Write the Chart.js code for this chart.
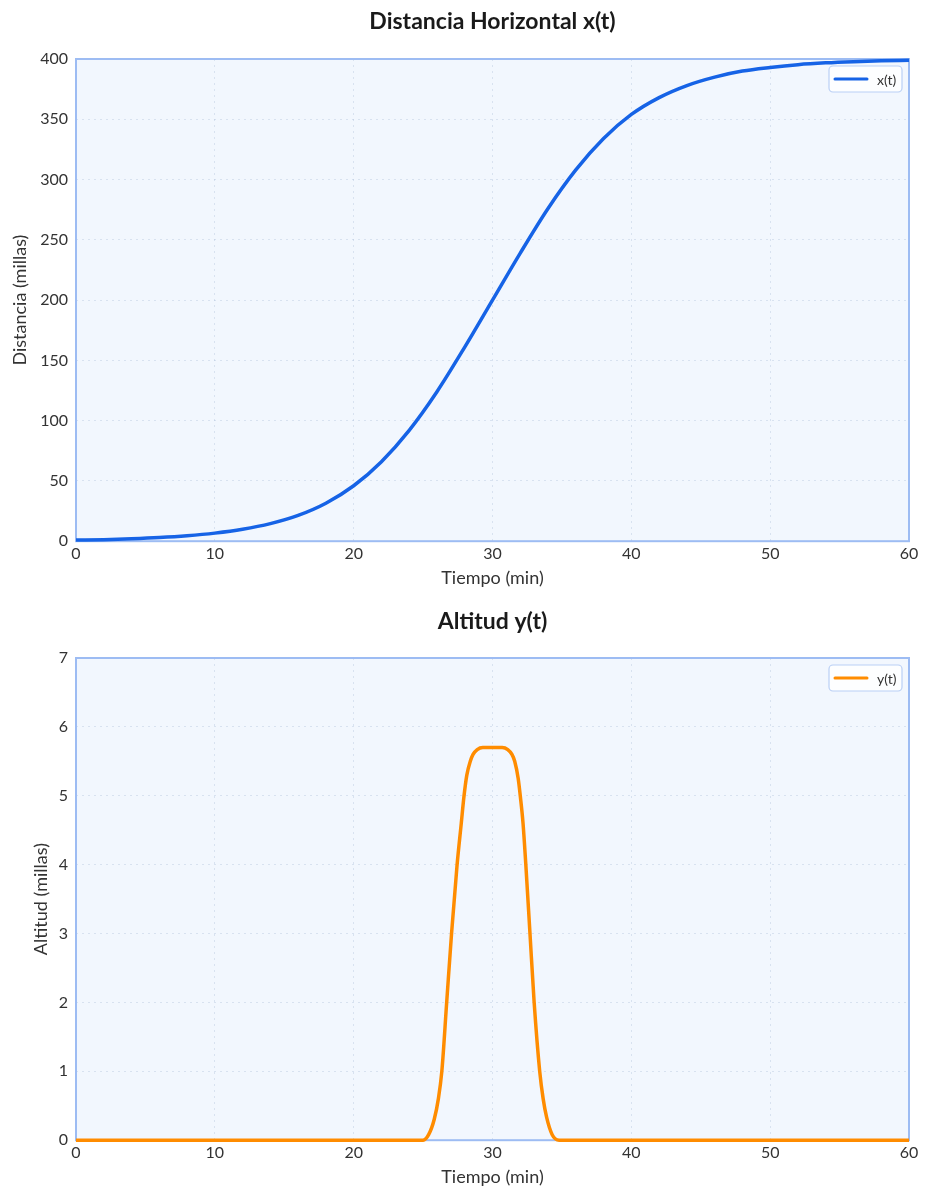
<!DOCTYPE html>
<html>
<head>
<meta charset="utf-8">
<script src="https://cdn.jsdelivr.net/npm/chart.js@4.4.1/dist/chart.umd.min.js"></script>
<style>
  html, body { margin: 0; padding: 0; background: #fff; }
  .panel { position: relative; width: 933px; height: 600px; }
</style>
</head>
<body>
<div class="panel"><canvas id="xChart"></canvas></div>
<div class="panel"><canvas id="yChart"></canvas></div>
<script>
// values
const timeX = [0, 2, 4, 6, 8, 10, 12, 14, 16, 18, 20, 22, 24, 26, 28, 30,
               32, 34, 36, 38, 40, 42, 44, 46, 48, 50, 52, 54, 56, 58, 60];
const distX = [0.9, 1.3, 2, 3, 4.5, 6.7, 9.9, 14.6, 21.4, 31.5, 46, 66, 92, 124, 161, 200,
               239, 276, 308, 334, 354, 368, 378, 385, 390, 393, 395.3, 396.8, 397.8, 398.5, 399];

const timeY = [0, 25.0, 25.4, 25.8, 26.1, 26.35, 26.7, 27.05, 27.45, 27.75, 27.95, 28.15, 28.4, 28.6, 28.9, 29.3,
               30.7, 31.1, 31.4, 31.6, 31.85, 32.0, 32.2, 32.4, 32.7, 33.0, 33.4, 33.65, 33.9, 34.3, 34.8, 60];
const altY  = [0, 0, 0.08, 0.3, 0.6, 1, 2, 3, 4, 4.6, 5, 5.3, 5.5, 5.6, 5.67, 5.7,
               5.7, 5.67, 5.6, 5.5, 5.25, 5, 4.6, 4, 3, 2, 1, 0.6, 0.33, 0.08, 0, 0];

const xTicks = [0, 10, 20, 30, 40, 50, 60];

const FONT      = 'Lato, "Noto Sans", sans-serif';
const TXT       = '#333333';
const FRAME     = '#9dbcf3';
const PLOT_BG   = '#f2f7fe';
const GRID      = 'rgba(170,185,215,0.35)';

function toPoints(xs, ys) {
  return xs.map((x, i) => ({ x: x, y: ys[i] }));
}

// light plot background, full frame, and a title centred over the plot
const frameBg = {
  id: 'frameBg',
  beforeDraw(chart) {
    const a = chart.chartArea, c = chart.ctx;
    c.save();
    c.fillStyle = PLOT_BG;
    c.fillRect(a.left, a.top, a.right - a.left, a.bottom - a.top);
    c.restore();
  },
  beforeDatasetsDraw(chart) {
    const a = chart.chartArea, c = chart.ctx;
    c.save();
    c.strokeStyle = FRAME;
    c.lineWidth = 2;
    c.strokeRect(a.left, a.top, a.right - a.left, a.bottom - a.top);
    c.restore();
  },
  afterDraw(chart, args, opts) {
    const a = chart.chartArea, c = chart.ctx;
    c.save();
    c.fillStyle = '#1a1a1a';
    c.font = 'bold 23px ' + FONT;
    c.textAlign = 'center';
    c.textBaseline = 'middle';
    c.fillText(opts.text, (a.left + a.right) / 2, 22);
    c.restore();
  }
};

// legend box drawn inside the plot, top right
const innerLegend = {
  id: 'innerLegend',
  afterDatasetsDraw(chart) {
    const a = chart.chartArea, c = chart.ctx;
    const ds = chart.data.datasets[0];
    const w = 73, h = 26;
    const x0 = a.right - 7 - w, y0 = a.top + 7;
    c.save();
    c.beginPath();
    c.roundRect(x0, y0, w, h, 4);
    c.fillStyle = 'rgba(255,255,255,0.85)';
    c.fill();
    c.strokeStyle = '#b9cff5';
    c.lineWidth = 1.2;
    c.stroke();
    c.beginPath();
    c.moveTo(x0 + 6, y0 + h / 2);
    c.lineTo(x0 + 38, y0 + h / 2);
    c.strokeStyle = ds.borderColor;
    c.lineWidth = 3;
    c.lineCap = 'round';
    c.stroke();
    c.fillStyle = TXT;
    c.font = '14px ' + FONT;
    c.textBaseline = 'middle';
    c.fillText(ds.label, x0 + 48, y0 + h / 2 + 1);
    c.restore();
  }
};

function makeChart(id, opts) {
  return new Chart(document.getElementById(id), {
    type: 'line',
    data: {
      datasets: [{
        label:            opts.label,
        data:             opts.points,
        borderColor:      opts.color,
        borderWidth:      3.5,
        pointRadius:      0,
        fill:             false,
        clip:             4,
        cubicInterpolationMode: 'monotone'
      }]
    },
    options: {
      responsive:          true,
      maintainAspectRatio: false,
      animation:           false,
      layout: { padding: { left: opts.padLeft, right: 24, top: opts.padTop, bottom: opts.padBottom } },
      plugins: {
        legend:  { display: false },
        tooltip: { enabled: false },
        title:   { display: false },
        frameBg: { text: opts.title }
      },
      scales: {
        x: {
          type: 'linear',
          min: 0, max: 60,
          afterBuildTicks: s => { s.ticks = xTicks.map(v => ({ value: v })); },
          grid:   { color: GRID, drawTicks: false },
          border: { display: false, dash: [2, 4] },
          ticks:  { color: TXT, padding: 3, font: { family: FONT, size: 16 } },
          title:  { display: true, text: 'Tiempo (min)', color: TXT,
                    font: { family: FONT, size: 18 }, padding: { top: 1, bottom: 0 } }
        },
        y: {
          min: 0, max: opts.yMax,
          afterFit: s => { s.width = opts.yWidth; },
          grid:   { color: GRID, drawTicks: false },
          border: { display: false, dash: [2, 4] },
          ticks:  { color: TXT, padding: 8, stepSize: opts.yStep,
                    font: { family: FONT, size: 16 } },
          title:  { display: true, text: opts.yTitle, color: TXT,
                    font: { family: FONT, size: 18 }, padding: { top: 4, bottom: 4 } }
        }
      }
    },
    plugins: [frameBg, innerLegend]
  });
}

makeChart('xChart', {
  title:     'Distancia Horizontal x(t)',
  label:     'x(t)',
  color:     '#1663e6',
  points:    toPoints(timeX, distX),
  yMax:      400,
  yStep:     50,
  yTitle:    'Distancia (millas)',
  padLeft:   5,
  padTop:    59,
  padBottom: 11,
  yWidth:    71
});

makeChart('yChart', {
  title:     'Altitud y(t)',
  label:     'y(t)',
  color:     '#ff8c00',
  points:    toPoints(timeY, altY),
  yMax:      7,
  yStep:     1,
  yTitle:    'Altitud (millas)',
  padLeft:   26,
  padTop:    58,
  padBottom: 12,
  yWidth:    50
});
</script>
</body>
</html>
